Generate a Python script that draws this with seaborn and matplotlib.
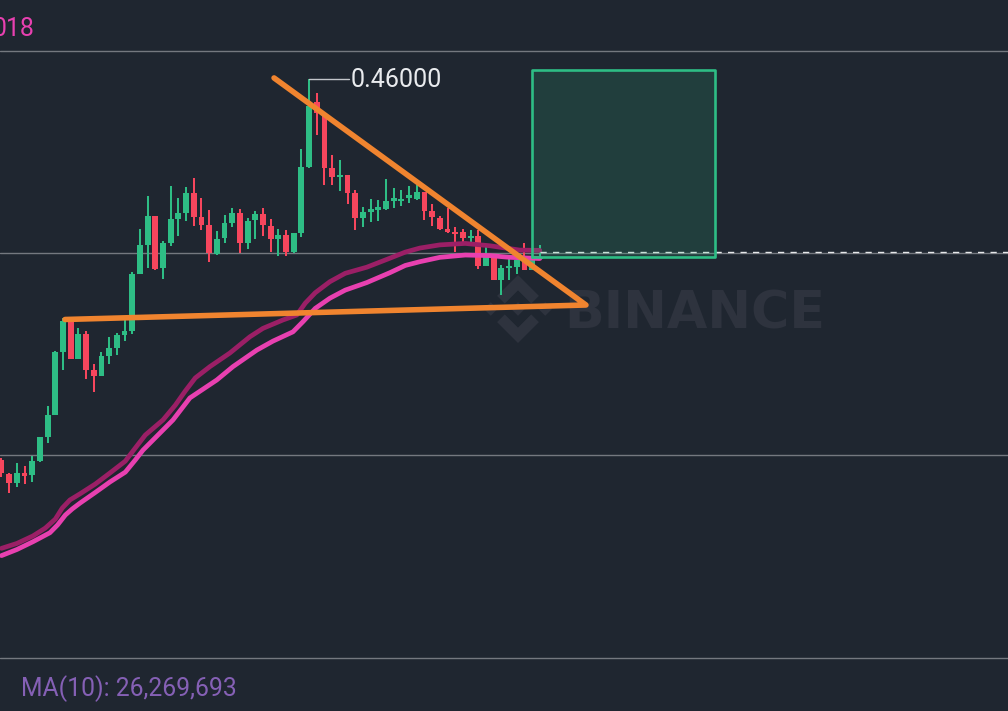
import numpy as np
import pandas as pd
import seaborn as sns
import matplotlib
matplotlib.use("Agg")
import matplotlib.pyplot as plt
from matplotlib.patches import Polygon
from matplotlib.transforms import Affine2D

# Candles, prices in thousandths
opens = [328.6,323.9,320.8,324.1,323.5,328.3,336.4,344.1,365.9,376.3,363.4,372.1,359.6,357.6,364.6,367.1,371.6,373.2,392.6,402.8,
         412.8,394.7,403.6,411.8,413.9,420.8,412.4,409.6,399.7,405.1,410.5,413.7,403.5,411.4,413.5,409.4,404.8,406.2,400.2,406.8,
         429.7,452.0,448.2,429.2,426.1,427.0,420.8,412.2,414.2,414.8,415.2,417.9,418.0,419.0,418.5,421.1,414.5,412.2,408.3,407.3,
         407.3,405.1,405.9,395.6,398.4,390.7,394.7,395.1,397.6,394.1,397.9]
closes = [324.2,320.8,324.0,323.2,328.3,336.4,344.0,365.9,376.5,363.4,372.1,359.6,357.6,364.6,367.1,371.6,373.2,392.8,402.8,412.8,
          394.4,403.6,411.8,413.7,420.8,412.5,409.6,399.9,404.9,410.2,413.7,403.6,411.1,413.5,409.7,404.8,406.2,400.3,406.8,429.8,
          450.7,448.2,429.4,426.1,427.0,420.8,412.2,414.0,415.1,415.8,417.8,418.9,418.7,420.0,421.1,414.5,412.3,408.3,407.1,406.6,
          405.1,406.0,395.5,398.5,390.7,394.7,395.5,397.6,394.1,397.6,398.6]
highs = [329.4,324.2,327.7,326.5,330.0,336.4,347.2,366.3,377.5,377.6,374.0,373.1,361.7,365.8,370.9,372.5,376.9,393.4,408.2,419.8,
         412.8,404.1,423.1,418.9,422.9,425.8,418.9,414.7,407.5,413.1,415.5,415.2,412.0,414.4,415.6,411.8,408.3,407.8,406.8,435.8,
         460.0,455.1,448.3,433.8,432.1,427.0,421.6,416.0,418.6,418.3,425.4,422.3,421.7,423.0,423.5,421.1,416.9,412.8,415.4,408.9,
         408.3,407.9,407.9,402.2,398.4,395.9,398.3,397.9,403.3,399.0,402.8]
lows = [322.8,317.3,319.4,320.2,320.9,328.0,334.6,344.1,359.6,363.4,363.4,356.4,352.0,357.6,361.6,364.7,369.7,372.0,392.6,394.9,
        394.0,391.1,402.4,406.0,411.1,409.4,407.9,397.0,399.4,403.3,409.1,399.9,401.3,404.9,406.0,400.2,399.0,399.0,399.9,405.4,
        429.4,440.7,423.5,423.5,421.5,416.9,407.9,408.9,410.8,411.1,414.8,415.4,416.3,417.4,418.3,411.4,409.4,407.9,406.8,400.2,
        403.7,402.8,394.5,395.6,390.7,385.5,390.7,392.8,394.1,394.1,397.9]

# Moving averages (candle index, price)
slow_index = [0,2.0,4.1,5.7,7.0,7.9,8.9,10.2,12.2,14.1,16.1,17.1,18.7,21.0,22.6,23.9,25.2,27.1,29.7,32.3,34.0,36.6,38.4,39.5,40.8,42.7,44.7,47.5,50.5,52.5,54.4,57.0,60.3,63.5,67.4,70.0]
slow_price = [298.1,299.8,302.4,305.1,308.2,312.0,314.8,316.9,320.3,324.1,328.2,331.7,337.2,342.4,347.5,352.4,356.9,360.8,365.5,371.1,374.0,376.9,378.6,382.7,386.3,390.1,393.0,395.1,398.2,400.3,401.7,402.8,403.3,402.5,401.0,400.9]
fast_index = [0,2.0,4.1,6.3,7.3,8.3,9.2,10.2,12.2,14.1,16.1,17.4,18.4,19.3,22.3,24.5,28.0,30.1,33.2,35.3,37.9,39.2,40.8,42.7,44.7,47.5,50.5,52.5,54.4,57.0,60.3,63.5,66.1,70.0]
fast_price = [295.6,297.7,300.4,303.5,306.2,309.6,311.7,313.7,317.4,321.0,324.4,328.6,332.0,334.4,342.4,350.0,356.2,360.8,366.5,369.6,372.8,376.3,380.9,384.4,387.2,389.8,393.2,395.7,397.0,398.5,399.3,399.1,398.5,398.1]

# Drawn trend lines (candle index, price)
trend_x = [35.44, 76.0, 8.26]
trend_y = [460.4, 382.06, 377.06]

grid_levels = [469.7, 400.0, 330.3, 260.3]
last_price = 400.35
high_price = 460.0
high_label = "0.46000"
box_x = [69.0, 92.8]
box_y = [398.6, 463.0]
top_label = "018"
volume_label = "MA(10): 26,269,693"
watermark = "BINANCE"

BG = "#1f2630"
GREEN = "#2ebd85"
RED = "#f6465d"
ORANGE = "#f0842f"
SLOW = "#9b1f66"
FAST = "#e840b0"
GRID = "#74787f"
MARK = "#2e333e"
FONT = "Roboto"

sns.set_theme(style="dark", rc={"figure.facecolor": BG, "axes.facecolor": BG, "font.family": FONT})

W, H = 1008, 711
XLIM = (-0.195, 130.88)
YLIM = (241.99, 487.285)
fig = plt.figure(figsize=(W / 100, H / 100), dpi=100)
ax = fig.add_axes([0, 0, 1, 1])
ax.add_patch(plt.Rectangle((0, 0), 1, 1, transform=ax.transAxes, color=BG, zorder=0))

# pixel transform for overlay items (y down)
px = Affine2D().scale(1, -1).translate(0, H)

for lv in grid_levels:
    ax.axhline(lv, color=GRID, lw=1.0, zorder=1)

# Watermark logo and text
cx, cy, s = 518, 309, 34 / 63.3
top = [(-24.6, -10.1), (0, -34.7), (24.6, -10.1), (38.9, -24.4), (0, -63.3), (-38.9, -24.4)]
logo = [top, [(x, -y) for x, y in top]]
logo += [[(dx - 12.6, 0), (dx, -12.6), (dx + 12.6, 0), (dx, 12.6)] for dx in (-50.7, 0, 50.7)]
for poly in logo:
    pts = [(cx + x * s, cy + y * s) for x, y in poly]
    ax.add_patch(Polygon(pts, closed=True, transform=px, color=MARK, lw=0, zorder=1.5))
ax.text(564, 328.5, watermark, transform=px, ha="left", va="baseline", color=MARK,
        fontsize=37.6, fontweight="bold", family="DejaVu Sans", zorder=1.5)

# Candles
o, c, h_, l_ = map(np.array, (opens, closes, highs, lows))
idx = np.arange(len(o))
colors = [GREEN if cl >= op else RED for op, cl in zip(o, c)]
ax.vlines(idx, l_, h_, colors=colors, lw=1.45, zorder=2)
ax.bar(idx, np.abs(c - o), bottom=np.minimum(o, c), width=0.76, color=colors, lw=0, zorder=2.1)

# Moving averages
slow = pd.DataFrame({"i": slow_index, "p": slow_price})
fast = pd.DataFrame({"i": fast_index, "p": fast_price})
sns.lineplot(data=slow, x="i", y="p", color=SLOW, lw=3.4, ax=ax, estimator=None, zorder=3,
             solid_joinstyle="round")
sns.lineplot(data=fast, x="i", y="p", color=FAST, lw=3.4, ax=ax, estimator=None, zorder=3.1,
             solid_joinstyle="round")

# Last price
ax.plot([70, XLIM[1]], [last_price, last_price], color="#e6e8ea", lw=1.0, dashes=(4.5, 4.5), zorder=3.2)

# Position box
ax.fill_between(box_x, box_y[0], box_y[1], color=GREEN, alpha=0.16, lw=0, zorder=3.3)
ax.plot([box_x[0], box_x[1], box_x[1], box_x[0], box_x[0]],
        [box_y[0], box_y[0], box_y[1], box_y[1], box_y[0]],
        color=GREEN, lw=1.9, solid_joinstyle="round", zorder=3.4)

# Trend lines
trend = pd.DataFrame({"x": trend_x, "y": trend_y, "o": range(3)})
sns.lineplot(data=trend, x="x", y="y", sort=False, estimator=None, color=ORANGE, lw=4.0, ax=ax, zorder=4)

ax.set_xlim(*XLIM)
ax.set_ylim(*YLIM)
ax.set_axis_off()

# High annotation
ax.plot([40, 45.2], [high_price, high_price], color="#c3c6cb", lw=1.0, zorder=4.1)
ax.text(45.4, high_price - 0.3, high_label, color="#e9ebee", fontsize=18.1, family=FONT, va="center", ha="left", zorder=4.2)

# Panel texts
ax.text(34, 35.5, top_label, transform=px, color=FAST, fontsize=17.9, family=FONT, ha="right", va="baseline", clip_on=False)
ax.text(21, 696, volume_label, transform=px, color="#8560b5", fontsize=17.85, family=FONT, ha="left", va="baseline")

fig.savefig("out.png", dpi=100, facecolor=BG)
